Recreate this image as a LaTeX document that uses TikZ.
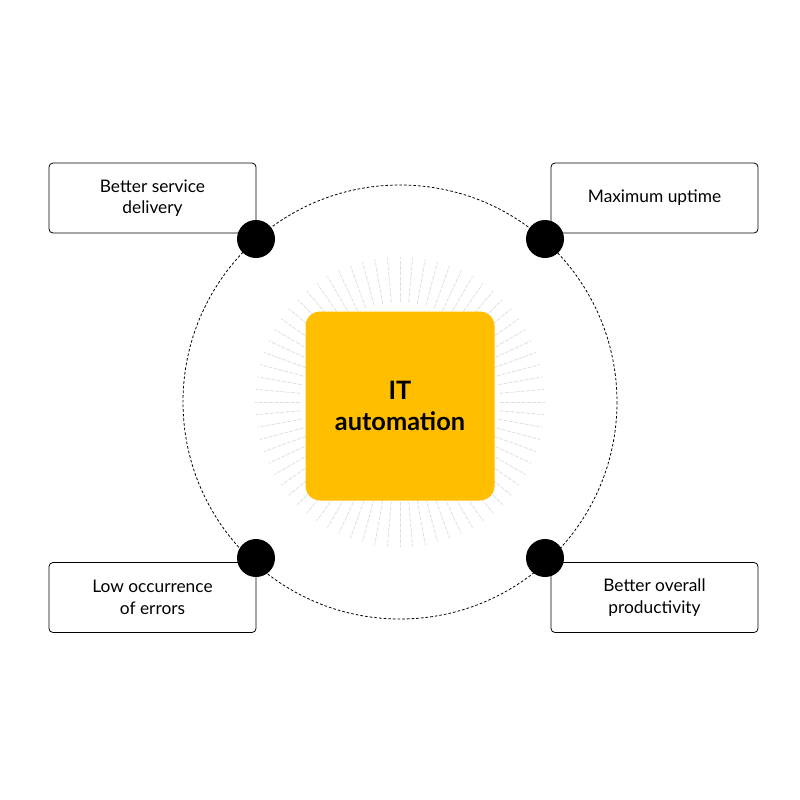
\documentclass[tikz,border=0pt]{standalone}
\usepackage{fontspec}
\setmainfont{Lato}
\usetikzlibrary{calc}
\begin{document}
\begin{tikzpicture}[x=0.75pt,y=-0.75pt,
  box/.style={draw=black,rounded corners=3pt,line width=0.6pt,minimum width=155.25pt,minimum height=52.5pt,align=center,font=\fontsize{13}{16}\selectfont},
  dot/.style={circle,fill=black,minimum size=28.5pt,inner sep=0pt},
  ray/.style={draw=gray!25,line width=0.6pt,dash pattern=on 3pt off 1pt}]
\useasboundingbox (0,0) rectangle (800,800);
\coordinate (c) at (400,402);
\foreach \a in {0,5,...,355}
  \draw[ray] ($(c)+(\a:100)$) -- ($(c)+(\a:145)$);
\draw[dashed,dash pattern=on 2pt off 1.5pt,line width=0.6pt] (c) circle[radius=217];
\node[fill={rgb,255:red,255;green,190;blue,0},rounded corners=11pt,minimum size=141.75pt,align=center,font=\fontsize{19}{23}\bfseries\selectfont] (it) at (400,406) {IT\\automation};
\node[box] (b1) at (152.5,198) {Better service\\delivery};
\node[box] (b2) at (654.5,198) {Maximum uptime};
\node[box] (b3) at (152.5,597.5) {Low occurrence\\of errors};
\node[box] (b4) at (654.5,597.5) {Better overall\\productivity};
\node[dot] (d1) at (256,239) {};
\node[dot] (d2) at (545,239) {};
\node[dot] (d3) at (256,558) {};
\node[dot] (d4) at (545,558) {};
\end{tikzpicture}
\end{document}
